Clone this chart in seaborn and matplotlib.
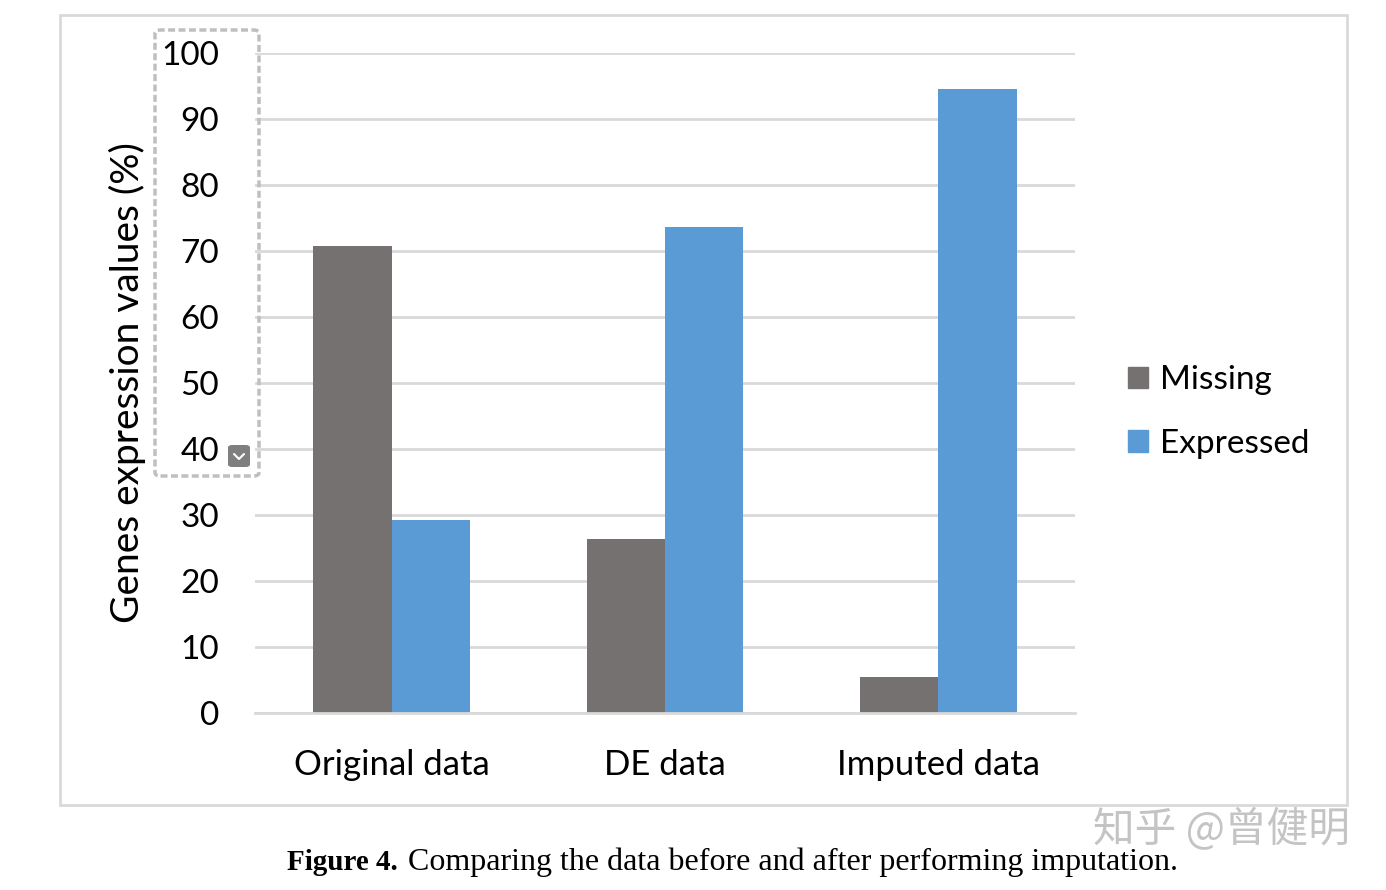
import matplotlib
matplotlib.use("Agg")
import matplotlib.pyplot as plt
import seaborn as sns
import pandas as pd
from matplotlib.patches import FancyBboxPatch, Rectangle
from matplotlib.lines import Line2D

categories = ["Original data", "DE data", "Imputed data"]
missing = [70.8, 26.4, 5.4]
expressed = [29.2, 73.6, 94.6]
series_names = ["Missing", "Expressed"]
yticks = [0, 10, 20, 30, 40, 50, 60, 70, 80, 90, 100]

df = pd.DataFrame({
    "category": categories * 2,
    "series": [series_names[0]] * 3 + [series_names[1]] * 3,
    "value": missing + expressed,
})

sns.set_theme(style="white")
plt.rcParams["font.family"] = ["Lato", "DejaVu Sans"]

fig = plt.figure(figsize=(13.86, 8.9), dpi=100)
ax = fig.add_axes([255 / 1386, 177 / 890, 820 / 1386, 660 / 890])

palette = {"Missing": "#767171", "Expressed": "#5B9BD5"}
sns.barplot(data=df, x="category", y="value", hue="series", palette=palette,
            width=0.572, gap=0, saturation=1, ax=ax, legend=False,
            linewidth=0, edgecolor="none")

ax.set_ylim(0, 100)
ax.set_xlim(-0.5, 2.5)
ax.set_yticks(yticks)
ax.set_yticklabels([str(t) for t in yticks], fontsize=24, color="black")
ax.tick_params(axis="x", labelsize=25, length=0, pad=26, labelcolor="black")
ax.tick_params(axis="y", length=0, pad=26, labelcolor="black")
ax.yaxis.grid(True, color="#D9D9D9", linewidth=2)
ax.set_axisbelow(True)
for s in ["top", "right", "left"]:
    ax.spines[s].set_visible(False)
ax.spines["bottom"].set_color("#D9D9D9")
ax.spines["bottom"].set_linewidth(2)
ax.set_xlabel("")
ax.set_ylabel("Genes expression values (%)", fontsize=28, color="black")
ax.yaxis.set_label_coords(-0.133, 0.5)

# legend
handles = [Rectangle((0, 0), 1, 1, color=palette[n]) for n in series_names]
fig.legend(handles, series_names, loc="center left",
           bbox_to_anchor=(1098 / 1386, 1 - 412 / 890), frameon=False,
           fontsize=24, handlelength=0.6, handleheight=0.6,
           handletextpad=0.35, labelspacing=1.0, labelcolor="black")

# outer border
fig.patches.append(Rectangle((60 / 1386, 1 - 805 / 890), 1287 / 1386, 790 / 890,
                             transform=fig.transFigure, fill=False,
                             edgecolor="#D9D9D9", linewidth=2))

# dashed selection box
fig.patches.append(FancyBboxPatch((155 / 1386, 1 - 476 / 890), 104 / 1386, 446 / 890,
                                  boxstyle="round,pad=0,rounding_size=0.004",
                                  transform=fig.transFigure, fill=False,
                                  edgecolor="#BFBFBF", linewidth=2.5,
                                  linestyle=(0, (2, 1))))
fig.patches.append(FancyBboxPatch((228 / 1386, 1 - 467 / 890), 22 / 1386, 22 / 890,
                                  boxstyle="round,pad=0,rounding_size=0.003",
                                  transform=fig.transFigure, facecolor="#7F7F7F",
                                  edgecolor="none"))
fig.lines.append(Line2D([234 / 1386, 239 / 1386, 244 / 1386],
                        [1 - 454 / 890, 1 - 459 / 890, 1 - 454 / 890],
                        transform=fig.transFigure, color="white", linewidth=1.5))

# caption
fig.text(287 / 1386, 1 - 862 / 890, "Figure 4.", fontsize=21, weight="bold",
         family=["Liberation Serif"], va="center", ha="left", color="black")
fig.text(408 / 1386, 1 - 862 / 890,
         "Comparing the data before and after performing imputation.",
         fontsize=23, family=["Liberation Serif"], va="center", ha="left",
         color="black")

# watermark
fig.text(1093 / 1386, 1 - 830 / 890, "知乎 @曾健明", fontsize=30, color="#C4C4C4",
         family=["Noto Sans CJK SC", "DejaVu Sans"], va="center", ha="left")

fig.savefig("out.png", dpi=100, facecolor="white")
